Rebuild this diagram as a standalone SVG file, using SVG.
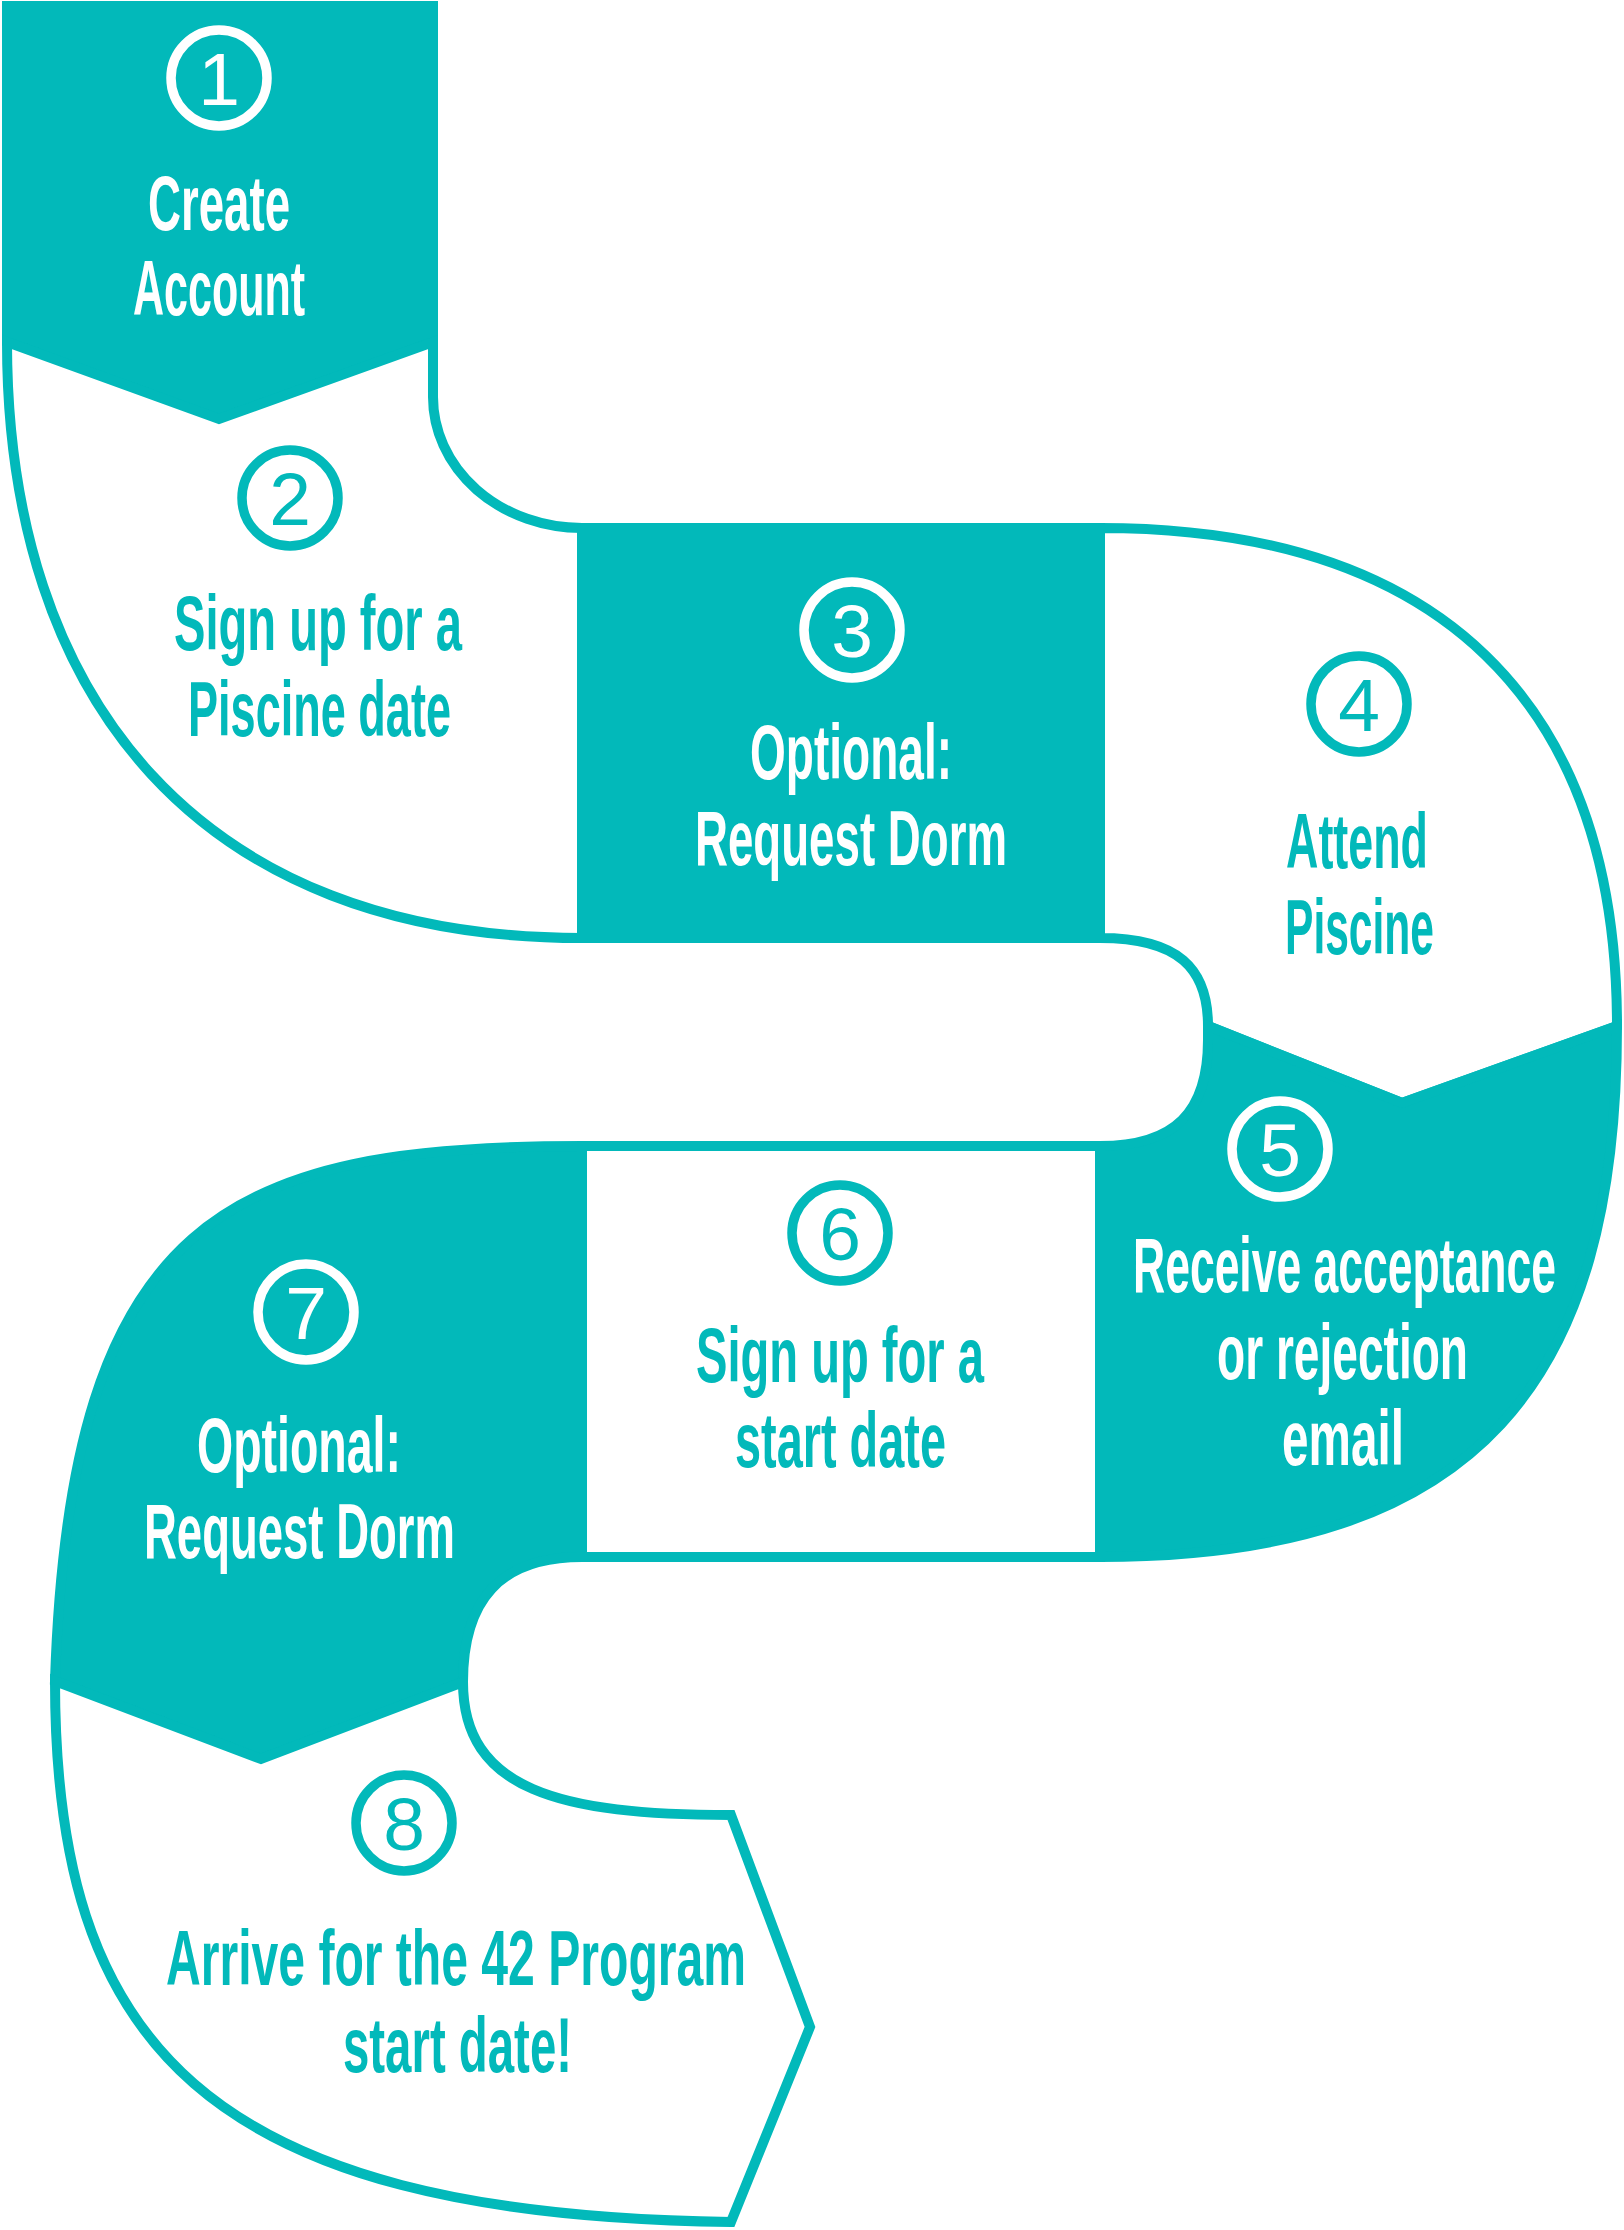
<svg xmlns="http://www.w3.org/2000/svg" width="1624" height="2230" viewBox="0 0 1624 2230">
<style>
.teal{fill:#02B9BA;stroke:#02B9BA;stroke-width:10;stroke-linejoin:miter}
.white{fill:#FFFFFF;stroke:#02B9BA;stroke-width:10;stroke-linejoin:miter}
.ringW{fill:none;stroke:#FFFFFF;stroke-width:9.5}
.ringT{fill:none;stroke:#02B9BA;stroke-width:9.5}
.num{font-family:"Liberation Sans","DejaVu Sans",sans-serif;font-size:75px;text-anchor:middle}
.lbl{font-family:"Liberation Sans Narrow","Liberation Sans","DejaVu Sans Condensed",sans-serif;font-size:77px;font-weight:bold}
.fw{fill:#FFFFFF}
.ft{fill:#02B9BA}
</style>
<rect x="0" y="0" width="1624" height="2230" fill="#FFFFFF"/>
<g id="step1">
<path class="teal" d="M7,6 H433 V342 L219,419 L7,342 Z"/>
<circle class="ringW" cx="219" cy="78" r="48"/>
<text class="num fw" x="219" y="105">1</text>
<text class="lbl fw" x="148" y="230" textLength="142" lengthAdjust="spacingAndGlyphs">Create</text>
<text class="lbl fw" x="133" y="315" textLength="172" lengthAdjust="spacingAndGlyphs">Account</text>
</g>
<g id="step2">
<path class="white" d="M7,342 L219,419 L433,342 V397 A149,131 0 0 0 582,528 V938 C200,938 7,700 7,342 Z"/>
<circle class="ringT" cx="290" cy="498" r="48"/>
<text class="num ft" x="290" y="525">2</text>
<text class="lbl ft" x="174" y="650" textLength="288" lengthAdjust="spacingAndGlyphs">Sign up for a</text>
<text class="lbl ft" x="188" y="736" textLength="263" lengthAdjust="spacingAndGlyphs">Piscine date</text>
</g>
<g id="step3">
<path class="teal" d="M582,528 H1100 V938 H582 Z"/>
<circle class="ringW" cx="852" cy="630" r="48"/>
<text class="num fw" x="852" y="657">3</text>
<text class="lbl fw" x="750" y="779" textLength="202" lengthAdjust="spacingAndGlyphs">Optional:</text>
<text class="lbl fw" x="695" y="865" textLength="312" lengthAdjust="spacingAndGlyphs">Request Dorm</text>
</g>
<g id="step4">
<path class="white" d="M1100,528 C1438,528 1617,701 1617,1026 L1402,1103 L1208,1026 C1208,968 1178,938 1100,938 Z"/>
<circle class="ringT" cx="1359" cy="704" r="48"/>
<text class="num ft" x="1359" y="731">4</text>
<text class="lbl ft" x="1286" y="868" textLength="142" lengthAdjust="spacingAndGlyphs">Attend</text>
<text class="lbl ft" x="1285" y="954" textLength="149" lengthAdjust="spacingAndGlyphs">Piscine</text>
</g>
<g id="step5">
<path class="teal" d="M1208,1026 L1402,1103 L1617,1026 C1617,1380 1480,1557 1100,1557 V1146 C1175,1146 1208,1112 1208,1040 Z"/>
<circle class="ringW" cx="1280" cy="1149" r="48"/>
<text class="num fw" x="1280" y="1176">5</text>
<text class="lbl fw" x="1133" y="1292" textLength="423" lengthAdjust="spacingAndGlyphs">Receive acceptance</text>
<text class="lbl fw" x="1217" y="1379" textLength="251" lengthAdjust="spacingAndGlyphs">or rejection</text>
<text class="lbl fw" x="1282" y="1465" textLength="122" lengthAdjust="spacingAndGlyphs">email</text>
</g>
<g id="step6">
<path class="white" d="M582,1146 H1100 V1557 H582 Z"/>
<circle class="ringT" cx="840" cy="1233" r="48"/>
<text class="num ft" x="840" y="1260">6</text>
<text class="lbl ft" x="696" y="1382" textLength="288" lengthAdjust="spacingAndGlyphs">Sign up for a</text>
<text class="lbl ft" x="735" y="1467" textLength="211" lengthAdjust="spacingAndGlyphs">start date</text>
</g>
<g id="step7">
<path class="teal" d="M582,1146 V1557 C500,1557 463,1600 463,1682 L261,1759 L55,1681 C70,1215 230,1146 582,1146 Z"/>
<circle class="ringW" cx="306" cy="1312" r="48"/>
<text class="num fw" x="306" y="1339">7</text>
<text class="lbl fw" x="197" y="1472" textLength="204" lengthAdjust="spacingAndGlyphs">Optional:</text>
<text class="lbl fw" x="144" y="1558" textLength="311" lengthAdjust="spacingAndGlyphs">Request Dorm</text>
</g>
<g id="step8">
<path class="white" d="M55,1681 L261,1759 L463,1682 C463,1790 560,1815 731,1815 L810,2027 L731,2222 C200,2215 55,2040 55,1681 Z"/>
<circle class="ringT" cx="404" cy="1823" r="48"/>
<text class="num ft" x="404" y="1850">8</text>
<text class="lbl ft" x="166" y="1985" textLength="580" lengthAdjust="spacingAndGlyphs">Arrive for the 42 Program</text>
<text class="lbl ft" x="343" y="2072" textLength="229" lengthAdjust="spacingAndGlyphs">start date!</text>
</g>
</svg>
